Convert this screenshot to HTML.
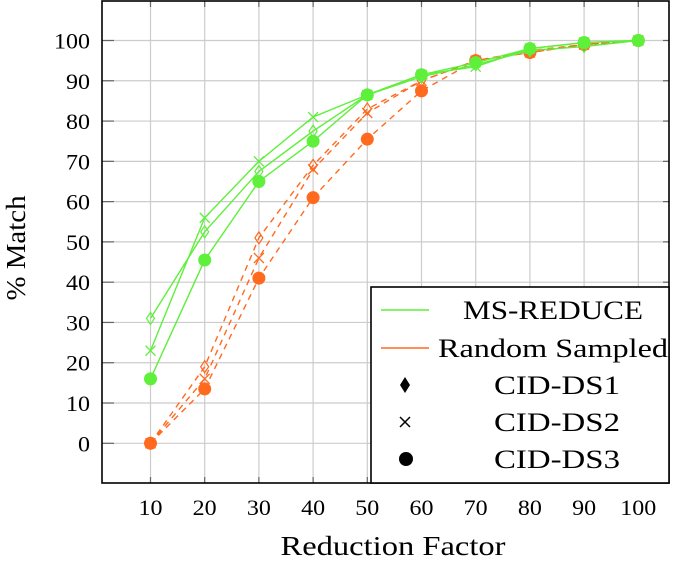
<!DOCTYPE html>
<html><head><meta charset="utf-8"><style>
body{margin:0;background:#fff}
svg text{font-family:"Liberation Serif",serif;fill:#000}
</style></head><body>
<svg width="685" height="562" id="c">
</svg>
<script>
const xCats=[10,20,30,40,50,60,70,80,90,100];
const yTicks=[0,10,20,30,40,50,60,70,80,90,100];
const msDS1=[31,52.5,67.5,77.5,86.5,91,94,97.5,98.5,100];
const msDS2=[23,56,70,81,86.5,91.5,93.5,98,99.5,100];
const msDS3=[16,45.5,65,75,86.5,91.5,94.5,98,99.5,100];
const rsDS1=[0,19,51,69,83,90,95,97.5,99,100];
const rsDS2=[0,16,46,68,82,90,95,97,99,100];
const rsDS3=[0,13.5,41,61,75.5,87.5,95,97,99,100];
const G='#5ef03a',O='#ff6a1f';
const svg=document.getElementById('c');const NS='http://www.w3.org/2000/svg';
const L=102,R=669,T=1,B=483;
const X=v=>150.5+(v-10)*5.42;
const Y=v=>443.3-v*4.028;
function el(t,a,p){const e=document.createElementNS(NS,t);for(const k in a)e.setAttribute(k,a[k]);(p||svg).appendChild(e);return e;}
const grid=el('g',{});
xCats.forEach(v=>{el('line',{x1:X(v),x2:X(v),y1:T,y2:B,stroke:'#ccc','stroke-width':1.2},grid);el('line',{x1:X(v),x2:X(v),y1:T,y2:T+6,stroke:'#666','stroke-width':1.2},grid);el('line',{x1:X(v),x2:X(v),y1:B,y2:B-6,stroke:'#666','stroke-width':1.2},grid);
const s=String(v);const t=el('text',{x:X(v),y:515,'text-anchor':'middle','font-size':22,textLength:s.length*12,lengthAdjust:'spacingAndGlyphs'});t.textContent=s;});
yTicks.forEach(v=>{el('line',{x1:L,x2:R,y1:Y(v),y2:Y(v),stroke:'#ccc','stroke-width':1.2},grid);el('line',{x1:L,x2:L+12,y1:Y(v),y2:Y(v),stroke:'#666','stroke-width':1.2},grid);el('line',{x1:R,x2:R-6,y1:Y(v),y2:Y(v),stroke:'#666','stroke-width':1.2},grid);
const s=String(v);const t=el('text',{x:90,y:Y(v)+8,'text-anchor':'end','font-size':22,textLength:s.length*12,lengthAdjust:'spacingAndGlyphs'});t.textContent=s;});
function marker(g,kind,x,y,c){
 if(kind==='d')el('path',{d:`M${x} ${y-6}L${x+4} ${y}L${x} ${y+6}L${x-4} ${y}Z`,fill:'none',stroke:c,'stroke-width':1.2},g);
 else if(kind==='x')el('path',{d:`M${x-5} ${y-5}L${x+5} ${y+5}M${x-5} ${y+5}L${x+5} ${y-5}`,stroke:c,'stroke-width':1.3},g);
 else el('circle',{cx:x,cy:y,r:6.5,fill:c},g);
}
function series(name,data,c,dash,kind){
 const g=el('g',{});
 el('polyline',{points:data.map((v,i)=>X(xCats[i])+','+Y(v)).join(' '),fill:'none',stroke:c,'stroke-width':1.4,'stroke-dasharray':dash||'none'},g);
 data.forEach((v,i)=>marker(g,kind,X(xCats[i]),Y(v),c));
}
series('random-ds3-line',rsDS3,O,'6 5','o');
series('random-ds2-line',rsDS2,O,'6 5','x');
series('random-ds1-line',rsDS1,O,'6 5','d');
series('ms-reduce-ds3-line',msDS3,G,null,'o');
series('ms-reduce-ds2-line',msDS2,G,null,'x');
series('ms-reduce-ds1-line',msDS1,G,null,'d');
el('rect',{x:L,y:T,width:R-L,height:B-T,fill:'none',stroke:'#000','stroke-width':1.6});
const lg=el('g',{});
el('rect',{x:371,y:287,width:298,height:196,fill:'#fff',stroke:'#000','stroke-width':1.6},lg);
const items=[['MS-REDUCE','line',G,310,553,180],['Random Sampled','line',O,348,553,230],['CID-DS1','d',null,385,557,126],['CID-DS2','x',null,422,557,126],['CID-DS3','o',null,459,557,126]];
items.forEach(([t,k,c,y,cx,w])=>{const g=el('g',{},lg);
 if(k==='line')el('line',{x1:381,x2:429,y1:y,y2:y,stroke:c,'stroke-width':1.4},g);
 else if(k==='d')el('path',{d:`M405 ${y-8}L410 ${y}L405 ${y+8}L400 ${y}Z`,fill:'#000'},g);
 else if(k==='x')el('path',{d:`M400 ${y-5}L410 ${y+5}M400 ${y+5}L410 ${y-5}`,stroke:'#000','stroke-width':1.5},g);
 else el('circle',{cx:406,cy:y,r:7,fill:'#000'},g);
 const tx=el('text',{x:cx,y:y+9,'text-anchor':'middle','font-size':26,textLength:w,lengthAdjust:'spacingAndGlyphs'},g);tx.textContent=t;});
const xt=el('text',{x:393,y:555,'text-anchor':'middle','font-size':27,textLength:225,lengthAdjust:'spacingAndGlyphs'});xt.textContent='Reduction Factor';
const yt=el('text',{x:0,y:0,'text-anchor':'middle','font-size':27,textLength:105,lengthAdjust:'spacingAndGlyphs',transform:'translate(25,248) rotate(-90)'});yt.textContent='% Match';
</script>
</body></html>
